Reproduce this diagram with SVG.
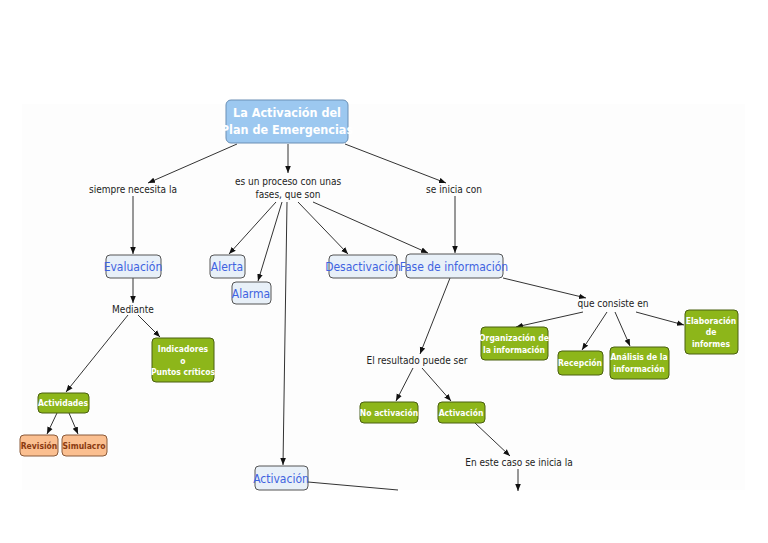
<svg xmlns="http://www.w3.org/2000/svg" width="768" height="543" viewBox="0 0 768 543">
<style>
text{font-family:"DejaVu Sans Condensed","DejaVu Sans",sans-serif;text-anchor:middle}
.lbl{font-size:10px;fill:#222}
.blue rect{fill:#e8f0f8;stroke:#555;stroke-width:1}
.blue text{font-size:12px;fill:#3f63e0}
.green rect{fill:#8db61a;stroke:#4a6010;stroke-width:1}
.green text{font-size:8.5px;fill:#fff;font-weight:bold}
.orange rect{fill:#fbbf90;stroke:#8a5a3a;stroke-width:1}
.orange text{font-size:8.5px;fill:#8a3a10;font-weight:bold}
.c line{stroke:#333;stroke-width:1}
.a{marker-end:url(#ar)}
</style>
<defs><marker id="ar" viewBox="0 0 10 10" refX="10" refY="5" markerWidth="7" markerHeight="7" orient="auto"><path d="M0,1 L10,5 L0,9 z" fill="#111"/></marker></defs>
<rect x="22" y="104" width="723" height="386" fill="#fdfdfd"/>
<g class="c">
<line x1="237" y1="144" x2="148" y2="183" class="a"/>
<line x1="288" y1="144" x2="288" y2="173" class="a"/>
<line x1="345" y1="144" x2="446" y2="183" class="a"/>
<line x1="133" y1="196" x2="133" y2="254" class="a"/>
<line x1="276" y1="202" x2="229" y2="254" class="a"/>
<line x1="282" y1="202" x2="258" y2="281" class="a"/>
<line x1="287" y1="202" x2="283" y2="465" class="a"/>
<line x1="298" y1="202" x2="348" y2="254" class="a"/>
<line x1="313" y1="202" x2="428" y2="253" class="a"/>
<line x1="455" y1="196" x2="455" y2="253" class="a"/>
<line x1="133" y1="278" x2="133" y2="303" class="a"/>
<line x1="128" y1="315" x2="66" y2="392" class="a"/>
<line x1="138" y1="315" x2="160" y2="337" class="a"/>
<line x1="57" y1="413" x2="47" y2="434" class="a"/>
<line x1="69" y1="413" x2="78" y2="434" class="a"/>
<line x1="308" y1="482" x2="398" y2="490"/>
<line x1="450" y1="278" x2="420" y2="354" class="a"/>
<line x1="503" y1="278" x2="586" y2="298" class="a"/>
<line x1="583" y1="312" x2="516" y2="327" class="a"/>
<line x1="607" y1="312" x2="582" y2="350" class="a"/>
<line x1="615" y1="312" x2="630" y2="346" class="a"/>
<line x1="636" y1="312" x2="684" y2="325" class="a"/>
<line x1="413" y1="368" x2="396" y2="401" class="a"/>
<line x1="422" y1="368" x2="451" y2="401" class="a"/>
<line x1="475" y1="423" x2="510" y2="456" class="a"/>
<line x1="518" y1="469" x2="518" y2="491" class="a"/>
</g>
<g class="lbl">
<text class="lbl" x="133" y="193">siempre  necesita la</text>
<text class="lbl" x="288" y="185">es un proceso con unas</text>
<text class="lbl" x="288" y="198">fases, que son</text>
<text class="lbl" x="454" y="193">se inicia con</text>
<text class="lbl" x="133" y="313">Mediante</text>
<text class="lbl" x="613" y="307">que consiste en</text>
<text class="lbl" x="417" y="364">El resultado puede ser</text>
<text class="lbl" x="519" y="466">En este caso se inicia la</text>
</g>
<g id="title"><rect x="226" y="100" width="122" height="43" rx="5" fill="#9cc8f0" stroke="#6a8fb5"/><text x="287" y="117" font-size="12.5" font-weight="bold" fill="#fff">La Activación del</text><text x="287" y="134" font-size="12.5" font-weight="bold" fill="#fff">Plan de Emergencias</text></g>
<g id="evaluacion" class="blue"><rect x="106" y="255" width="55" height="23" rx="4"/><text x="133" y="271">Evaluación</text></g>
<g id="alerta" class="blue"><rect x="210" y="255" width="35" height="23" rx="4"/><text x="227" y="271">Alerta</text></g>
<g id="alarma" class="blue"><rect x="232" y="282" width="39" height="22" rx="4"/><text x="251" y="298">Alarma</text></g>
<g id="desactivacion" class="blue"><rect x="329" y="255" width="68" height="23" rx="4"/><text x="363" y="271">Desactivación</text></g>
<g id="fase" class="blue"><rect x="406" y="254" width="97" height="24" rx="4"/><text x="454" y="271">Fase de información</text></g>
<g id="activacion1" class="blue"><rect x="255" y="466" width="53" height="24" rx="4"/><text x="281" y="483">Activación</text></g>
<g id="indicadores" class="green"><rect x="152" y="338" width="62" height="44" rx="4"/><text x="183" y="352">Indicadores</text><text x="183" y="364">o</text><text x="183" y="375">Puntos críticos</text></g>
<g id="actividades" class="green"><rect x="38" y="393" width="51" height="20" rx="4"/><text x="63" y="406">Actividades</text></g>
<g id="revision" class="orange"><rect x="20" y="435" width="38" height="21" rx="4"/><text x="39" y="449">Revisión</text></g>
<g id="simulacro" class="orange"><rect x="62" y="435" width="45" height="21" rx="4"/><text x="84" y="449">Simulacro</text></g>
<g id="organizacion" class="green"><rect x="481" y="327" width="67" height="33" rx="4"/><text x="514" y="341">Organización de</text><text x="514" y="353">la información</text></g>
<g id="recepcion" class="green"><rect x="558" y="351" width="45" height="24" rx="4"/><text x="580" y="366">Recepción</text></g>
<g id="analisis" class="green"><rect x="610" y="347" width="59" height="32" rx="4"/><text x="639" y="360">Análisis de la</text><text x="639" y="372">información</text></g>
<g id="elaboracion" class="green"><rect x="685" y="310" width="53" height="44" rx="4"/><text x="711" y="324">Elaboración</text><text x="711" y="335">de</text><text x="711" y="347">informes</text></g>
<g id="noactivacion" class="green"><rect x="360" y="402" width="58" height="21" rx="4"/><text x="389" y="416">No activación</text></g>
<g id="activacion2" class="green"><rect x="438" y="402" width="47" height="21" rx="4"/><text x="461" y="416">Activación</text></g>
</svg>
